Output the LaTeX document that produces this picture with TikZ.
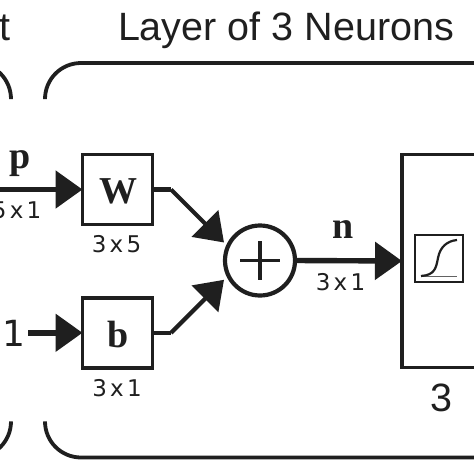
\documentclass[tikz,border=0pt]{standalone}
\usepackage{fontspec}
\setmainfont{Liberation Sans}
\newfontfamily\lblserif{Liberation Serif}
\newfontfamily\dimsans[LetterSpace=14]{DejaVu Sans}
\newfontfamily\onesans{DejaVu Sans}
\usetikzlibrary{arrows.meta,calc,positioning}
\definecolor{ink}{HTML}{1F1F1F}
\tikzset{
  blockbox/.style={draw=ink, line width=3.8pt, minimum size=70pt, inner sep=0pt, outer sep=0pt, fill=white},
  wire/.style={draw=ink, line width=5.4pt},
  thinwire/.style={draw=ink, line width=4.2pt},
  bigtip/.style={-{Triangle[length=27pt,width=37pt,fill=ink]}},
  bracket/.style={draw=ink, line width=3.8pt, rounded corners=36pt},
  toptext/.style={inner sep=0pt, anchor=base, text=ink, font=\fontsize{39.5}{40}\selectfont},
  varname/.style={inner sep=0pt, anchor=base, text=ink, font=\lblserif\bfseries\fontsize{38}{40}\selectfont},
  dimtext/.style={inner sep=0pt, anchor=base, text=ink, font=\dimsans\fontsize{23}{24}\selectfont},
}
\begin{document}
\begin{tikzpicture}[x=1pt, y=-1pt]
  \useasboundingbox (0,0) rectangle (474,474);
  \clip (0,0) rectangle (474,474);
  \fill[white] (0,0) rectangle (474,474);
  \node[toptext, anchor=base east] (inputtitle) at (11,40) {t};
  \node[toptext] (layertitle) at (286,40) {Layer of 3 Neurons};
  \draw[bracket] (11,98) |- (-40,63);
  \draw[bracket] (11,422) |- (-40,457.5);
  \draw[bracket] (45,98) |- (490,63);
  \draw[bracket] (45,422) |- (490,457.5);
  \node[blockbox] (Wbox) at (117.5,189.5) {};
  \node[blockbox] (bbox) at (117.5,332.8) {};
  \node[draw=ink, line width=4.2pt, circle, minimum size=70pt, inner sep=0pt, outer sep=0pt] (sumnode) at (260,260.5) {};
  \node[draw=ink, line width=3.8pt, minimum width=100pt, minimum height=213pt, inner sep=0pt, outer sep=0pt, anchor=west] (Fbox) at (402,261) {};
  \node[draw=ink, line width=2.6pt, minimum width=48pt, minimum height=47pt, inner sep=0pt, outer sep=0pt] (sigbox) at (439,258.5) {};
  \coordinate (pstart) at (-5,189.5);
  \coordinate (onestart) at (28,332.8);
  \coordinate (Wbend) at (171,189.5);
  \coordinate (bbend) at (171,332.8);
  \coordinate (Wtip) at (224,242.5);
  \coordinate (btip) at (224,279.8);
  \draw[wire, bigtip] (pstart) -- (Wbox.west);
  \draw[wire, bigtip] (onestart) -- (bbox.west);
  \draw[thinwire] (Wbox.east) -- (Wbend);
  \draw[thinwire] (bbox.east) -- (bbend);
  \draw[thinwire, bigtip] (Wbend) -- (Wtip);
  \draw[thinwire, bigtip] (bbend) -- (btip);
  \draw[wire, bigtip] (sumnode.east) -- (Fbox.west);
  \draw[draw=ink, line width=3.8pt] (240,260.5) -- (280,260.5);
  \draw[draw=ink, line width=3.8pt] (260,241) -- (260,280);
  \draw[draw=ink!70, line width=1.6pt] (421,276.4) -- (457,276.4);
  \draw[draw=ink, line width=2.2pt] (421,276) .. controls (435,275) and (436,268) .. (438,258) .. controls (440,247) and (447,241) .. (457,240);
  \node[varname] (plabel) at (20.5,168) {p};
  \node[varname] (Wlabel) at (118.5,203) {W};
  \node[varname] (blabel) at (118,347) {b};
  \node[varname] (nlabel) at (343,238) {n};
  \node[dimtext, anchor=base east] (pdim) at (41.5,218) {5x1};
  \node[dimtext] (Wdim) at (116.5,252) {3x5};
  \node[dimtext] (bdim) at (117,396) {3x1};
  \node[dimtext] (ndim) at (340.5,290) {3x1};
  \node[inner sep=0pt, anchor=base, text=ink, font=\onesans\fontsize{36}{40}\selectfont] (onelabel) at (13.5,346) {1};
  \node[toptext] (neuroncount) at (441,411.5) {3};
\end{tikzpicture}
\end{document}
